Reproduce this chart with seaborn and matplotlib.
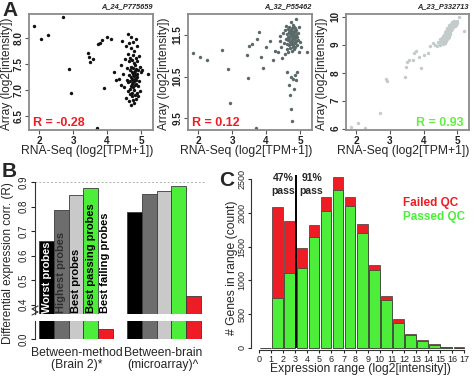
import pandas as pd
import seaborn as sns
import matplotlib.pyplot as plt
from matplotlib.lines import Line2D

# ---- panel A: one RNA-Seq value per sample, three microarray probes
rnaseq_x = [1.85, 2.05, 2.25, 2.70, 2.88, 2.93, 3.45, 3.47, 3.50, 3.58,
            3.70, 3.72, 3.78, 3.86, 3.92, 4.00, 4.12, 4.20, 4.27,
            4.35, 4.40, 4.42, 4.45, 4.48, 4.50, 4.52, 4.55, 4.55, 4.57,
            4.58, 4.60, 4.60, 4.62, 4.62, 4.63, 4.64, 4.65, 4.65, 4.66,
            4.67, 4.67, 4.68, 4.68, 4.69, 4.70, 4.70, 4.70, 4.71, 4.71,
            4.72, 4.72, 4.73, 4.73, 4.74, 4.74, 4.75, 4.75, 4.75, 4.76,
            4.76, 4.77, 4.77, 4.78, 4.78, 4.79, 4.79, 4.80, 4.80, 4.80,
            4.81, 4.81, 4.82, 4.82, 4.83, 4.83, 4.84, 4.84, 4.85, 4.85,
            4.86, 4.86, 4.87, 4.87, 4.88, 4.88, 4.89, 4.90, 4.90, 4.92,
            4.93, 4.95, 4.96, 4.98, 5.00, 5.04, 5.20]
probe_a24 = [8.22, 7.98, 8.06, 8.41, 7.40, 6.94, 7.71, 7.63, 7.54, 7.59,
             6.26, 7.88, 7.91, 7.96, 7.03, 8.01, 7.97, 7.35, 7.20,
             7.22, 7.48, 7.10, 7.95, 7.30, 7.05, 7.60, 6.85, 7.85, 7.20,
             7.42, 6.98, 7.70, 8.08, 7.15, 6.78, 7.55, 7.28, 7.90, 7.02,
             7.38, 6.92, 7.62, 7.18, 7.80, 6.72, 7.45, 7.08, 7.25, 8.02,
             6.88, 7.35, 7.12, 7.58, 6.95, 7.22, 7.68, 7.30, 6.80, 7.15,
             7.42, 7.92, 7.05, 7.26, 6.75, 7.52, 7.18, 7.32, 7.00, 7.75,
             7.22, 6.90, 7.36, 7.10, 7.48, 7.28, 6.82, 7.62, 7.20, 7.98,
             7.12, 7.40, 6.95, 7.25, 7.55, 7.85, 7.30, 7.08, 6.88, 7.38,
             7.18, 7.65, 6.98, 7.45, 7.35, 7.38, 7.30]
probe_a32 = [11.06, 10.97, 10.90, 11.14, 10.68, 9.86, 11.02, 10.46, 11.24, 11.28,
             9.26, 11.40, 11.56, 10.98, 10.70, 11.22, 11.36, 10.90, 11.12,
             11.10, 11.35, 11.48, 11.20, 10.95, 11.55, 11.30, 11.62, 11.05, 11.40,
             11.72, 11.15, 11.52, 11.28, 10.60, 11.45, 11.65, 11.38, 11.10, 11.58,
             10.30, 11.25, 11.70, 11.42, 10.05, 11.55, 11.32, 11.60, 11.18, 11.48,
             11.80, 10.50, 11.36, 11.62, 11.28, 9.72, 11.50, 11.40, 11.12, 11.66,
             11.30, 11.56, 9.44, 11.44, 11.22, 11.74, 11.34, 10.45, 11.52, 11.26,
             11.60, 11.40, 11.15, 10.20, 11.48, 11.70, 11.30, 11.58, 10.55, 11.42,
             11.66, 11.20, 11.50, 10.42, 11.36, 11.62, 11.88, 11.45, 10.60, 11.25,
             11.55, 11.38, 11.10, 11.68, 11.32, 11.20, 11.10]
probe_a23 = [6.07, 6.21, 6.01, 6.55, 7.76, 7.71, 7.86, 8.21, 8.39, 8.44,
             8.45, 8.72, 8.76, 8.55, 8.16, 8.63, 8.69, 8.95, 9.05,
             9.00, 8.95, 9.10, 9.05, 9.20, 8.98, 9.15, 9.25, 9.10, 9.30,
             9.02, 9.22, 9.35, 9.12, 9.28, 9.40, 9.08, 9.45, 9.18, 9.32,
             9.50, 9.26, 9.38, 9.14, 9.55, 9.42, 9.20, 9.48, 9.36, 9.60,
             9.30, 9.44, 9.52, 9.24, 9.58, 9.40, 9.66, 9.34, 9.50, 9.62,
             9.28, 9.70, 9.46, 9.56, 9.38, 9.64, 9.48, 9.72, 9.42, 9.58,
             9.66, 9.52, 9.76, 9.60, 9.68, 9.54, 9.74, 9.62, 9.80, 9.70,
             9.56, 9.78, 9.66, 9.72, 9.82, 9.64, 9.76, 9.70, 9.84, 9.74,
             9.68, 9.80, 9.72, 9.86, 9.78, 9.98, 9.50]
probe_names = ['A_24_P775659', 'A_32_P55462', 'A_23_P332713']
probe_r = ['R = -0.28', 'R = 0.12', 'R = 0.93']

# ---- panel B
probe_types = ['Worst probes', 'Highest probes', 'Best probes',
               'Best passing probes', 'Best failing probes']
between_method = [0.660, 0.785, 0.846, 0.875, 0.040]
between_brain = [0.777, 0.853, 0.863, 0.885, 0.435]
group_labels = ['Between-method\n(Brain 2)*', 'Between-brain\n(microarray)^']

# ---- panel C
expr_bins = list(range(17))
passed_qc = [3, 741, 1112, 1180, 1644, 2024, 2340, 2098, 1707, 1161,
             717, 376, 185, 102, 49, 18, 7]
failed_qc = [2, 1347, 766, 303, 185, 210, 190, 146, 132, 73,
             54, 48, 20, 10, 5, 2, 1]

RED = '#ee1c25'
GREEN = '#4cee3a'

sns.set_theme(style='ticks')
plt.rcParams['font.family'] = ['Liberation Sans', 'DejaVu Sans']

W, H = 474, 377
fig = plt.figure(figsize=(W / 100, H / 100), dpi=100)


def box(l, t, r, b):
    return [l / W, 1 - b / H, (r - l) / W, (b - t) / H]


def ftext(x, y, s, **kw):
    fig.text(x / W, 1 - y / H, s, **kw)


# ---------------- A: scatter plots
boxes = [(29, 14, 153, 130), (188, 14, 312, 130), (346, 14, 469, 130)]
ylims = [(6.23, 8.46), (9.22, 12.0), (5.95, 10.1)]
yticks = [[6.5, 7.0, 7.5, 8.0], [9.5, 10.5, 11.5], [6, 7, 8, 9, 10]]
ylabs = [['6.5', '7.0', '7.5', '8.0'], ['9.5', '10.5', '11.5'],
         ['6', '7', '8', '9', '10']]
dot_colors = ['#111111', '#5a6a69', '#c3cbcb']
r_colors = [RED, RED, '#66ee44']
ylab_x = [7, 164, 322]

for i, probe_y in enumerate([probe_a24, probe_a32, probe_a23]):
    ax = fig.add_axes(box(*boxes[i]))
    sns.scatterplot(x=rnaseq_x, y=probe_y, color=dot_colors[i], s=6,
                    linewidth=0, legend=False, ax=ax)
    ax.set_xlim(1.7, 5.35)
    ax.set_ylim(*ylims[i])
    ax.set_xticks([2, 3, 4, 5])
    ax.set_xticklabels(['2', '3', '4', '5'], fontweight='bold')
    ax.set_yticks(yticks[i])
    ax.set_yticklabels(ylabs[i], fontweight='bold', rotation=90, va='center')
    ax.tick_params(length=3, width=0.8, color='#555555', pad=1,
                   labelsize=7.2, labelcolor='#222222')
    for sp in ax.spines.values():
        sp.set_color('#8a8a8a')
        sp.set_linewidth(1.3)
    ftext((boxes[i][0] + boxes[i][2]) / 2 - 4, 151, 'RNA-Seq (log2[TPM+1])',
          fontsize=8.7, ha='center', va='center')
    ftext(ylab_x[i], 74, 'Array (log2[intensity])', fontsize=8.6,
          rotation=90, ha='center', va='center')
    ax.text(1.0, 1.03, probe_names[i], transform=ax.transAxes, ha='right',
            va='bottom', fontsize=5.3, fontweight='bold', style='italic')
    if i < 2:
        ax.text(0.03, 0.01, probe_r[i], transform=ax.transAxes, ha='left',
                va='bottom', fontsize=9, fontweight='bold', color=r_colors[i])
    else:
        ax.text(0.96, 0.01, probe_r[i], transform=ax.transAxes, ha='right',
                va='bottom', fontsize=9, fontweight='bold', color=r_colors[i])

# ---------------- B: broken-axis bar chart
bar_colors = ['#000000', '#6d6d6d', '#c9c9c9', GREEN, RED]
bar_pos = [0.5, 1.5, 2.5, 3.5, 4.5, 6.5, 7.5, 8.5, 9.5, 10.5]
df_b = pd.DataFrame({'pos': bar_pos,
                     'corr': between_method + between_brain,
                     'probe': probe_types * 2})
palette = dict(zip(probe_types, bar_colors))

axb_top = fig.add_axes(box(35, 176, 205, 314))
axb_bot = fig.add_axes(box(35, 321, 205, 339))
for ax in (axb_top, axb_bot):
    sns.barplot(data=df_b, x='pos', y='corr', hue='probe', palette=palette,
                native_scale=True, dodge=False, width=1, saturation=1,
                edgecolor='#3a3a3a', linewidth=0.6, errorbar=None,
                legend=False, ax=ax)
    ax.set_xlim(-0.3, 11.3)
    ax.set_xlabel('')
    ax.set_ylabel('')
    ax.set_xticks([])
    for s in ['top', 'right', 'bottom']:
        ax.spines[s].set_visible(False)
    ax.spines['left'].set_linewidth(0.8)
    ax.spines['left'].set_color('#333333')
    ax.tick_params(axis='y', length=3, width=0.8, pad=1.5, labelsize=7,
                   labelcolor='#222222')

axb_top.set_ylim(0.362, 0.925)
axb_top.set_yticks([0.4, 0.5, 0.6, 0.7, 0.8, 0.9])
axb_top.set_yticklabels(['0.4', '0.5', '0.6', '0.7', '0.8', '0.9'],
                        rotation=90, va='center')
axb_top.spines['left'].set_bounds(0.362, 0.9)
axb_top.axhline(0.9, color='#b0b0b0', lw=0.7, ls=(0, (2, 2)))
axb_bot.set_ylim(0, 0.0735)
axb_bot.set_yticks([0.0])
axb_bot.set_yticklabels(['0.0'], rotation=90, va='center')

text_colors = ['white', '#2e2e2e', 'black', 'black', 'black']
for pos, name, tc in zip(bar_pos[:5], probe_types, text_colors):
    axb_top.text(pos, 0.368, name, rotation=90, ha='center', va='bottom',
                 fontsize=8, fontweight='bold', color=tc)

# axis break mark
fig.add_artist(Line2D([32 / W, 38 / W, 32 / W, 38 / W],
                      [1 - 315 / H, 1 - 312 / H, 1 - 309 / H, 1 - 306 / H],
                      color='#333333', lw=0.8))

ftext(77, 359, group_labels[0], fontsize=8.7, ha='center', va='center',
      linespacing=1.1)
ftext(163, 359, group_labels[1], fontsize=8.7, ha='center', va='center',
      linespacing=1.1)
ftext(8, 263, 'Differential expression corr. (R)', fontsize=8.5,
      rotation=90, ha='center', va='center')

# ---------------- C: stacked histogram
bin_centers = [b + 0.55 for b in expr_bins]
totals = [p + f for p, f in zip(passed_qc, failed_qc)]
axc = fig.add_axes(box(251, 175, 470, 350))
sns.barplot(x=bin_centers, y=totals, native_scale=True, color=RED,
            saturation=1, width=0.88, edgecolor='#3a3a3a', linewidth=0.5,
            errorbar=None, ax=axc)
sns.barplot(x=bin_centers, y=passed_qc, native_scale=True, color=GREEN,
            saturation=1, width=0.88, edgecolor='#3a3a3a', linewidth=0.5,
            errorbar=None, ax=axc)
axc.set_xlim(-0.66, 17.47)
axc.set_ylim(-30, 2563)
axc.set_xticks(range(18))
axc.set_xticklabels([str(v) for v in range(18)])
axc.set_yticks([0, 500, 1000, 1500, 2000, 2500])
axc.set_yticklabels(['0', '500', '1000', '1500', '2000', '2500'],
                    rotation=90, va='center')
for s in ['top', 'right']:
    axc.spines[s].set_visible(False)
axc.spines['left'].set_bounds(0, 2500)
axc.spines['bottom'].set_bounds(0, 17)
for s in ['left', 'bottom']:
    axc.spines[s].set_linewidth(0.8)
    axc.spines[s].set_color('#333333')
axc.tick_params(length=2.5, width=0.8, pad=0.8, labelsize=6.5,
                labelcolor='#222222')
axc.vlines(3.05, 0, 2570, color='black', lw=1.4, clip_on=False)
axc.text(2.0, 2520, '47%', ha='center', va='center', fontsize=7.5,
         fontweight='bold', clip_on=False)
axc.text(2.0, 2330, 'pass', ha='center', va='center', fontsize=7.5,
         fontweight='bold')
axc.text(4.35, 2520, '91%', ha='center', va='center', fontsize=7.5,
         fontweight='bold', clip_on=False)
axc.text(4.35, 2330, 'pass', ha='center', va='center', fontsize=7.5,
         fontweight='bold')
axc.text(11.9, 2145, 'Failed QC', ha='left', va='center', fontsize=8.5,
         fontweight='bold', color=RED)
axc.text(11.9, 1942, 'Passed QC', ha='left', va='center', fontsize=8.5,
         fontweight='bold', color=GREEN)
ftext(360, 369, 'Expression range (log2[intensity])', fontsize=8.7,
      ha='center', va='center')
ftext(232, 268, '# Genes in range (count)', fontsize=8.7, rotation=90,
      ha='center', va='center')

# panel letters
ftext(2, 16, 'A', fontsize=15, fontweight='bold')
ftext(2, 177, 'B', fontsize=15, fontweight='bold')
ftext(219, 186, 'C', fontsize=15, fontweight='bold')

fig.savefig('out.png', dpi=100)
